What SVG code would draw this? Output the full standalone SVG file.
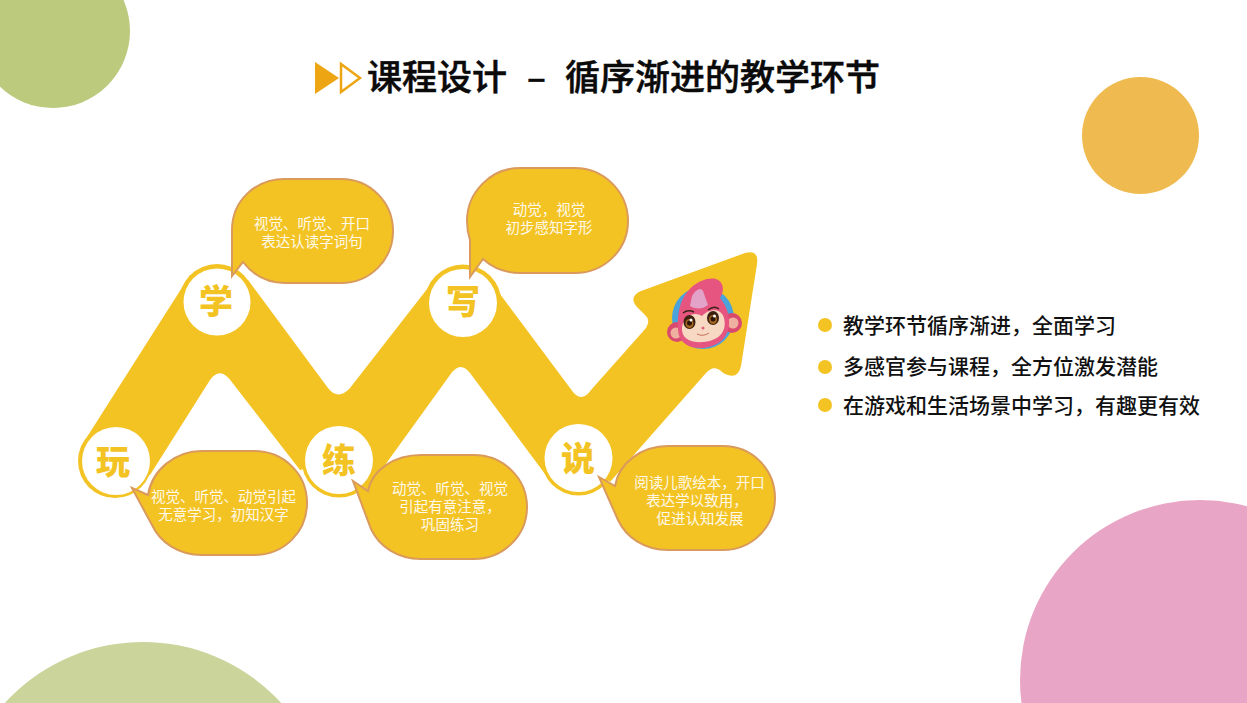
<svg xmlns="http://www.w3.org/2000/svg" width="1247" height="703" viewBox="0 0 1247 703">
  <style>
    text { font-family: "Noto Sans CJK SC", "Noto Sans", sans-serif; }
    .title { font-size: 35px; font-weight: 500; fill: #0a0a0a; stroke: #0a0a0a; stroke-width: 0.5px; }
    .bubble { fill: #F3C324; stroke: #DA9A5C; stroke-width: 2; stroke-linejoin: miter; }
    .bubble-text { font-size: 14.5px; fill: #FFF9EA; text-anchor: middle; }
    .ring { fill: #F3C324; }
    .hole { fill: #fff; }
    .step { font-size: 34px; font-weight: 900; fill: #F3C324; text-anchor: middle; }
    .item { font-size: 21px; font-weight: 500; fill: #111; }
    .dot { fill: #F3C324; }
  </style>

  <!-- Corner decoration -->
  <g id="decor">
    <circle cx="53" cy="31" r="77" fill="#BCCA7E"/>
    <circle cx="1140.500" cy="135.500" r="58.500" fill="#EFBA4F"/>
    <circle cx="1200" cy="680" r="180" fill="#E9A5C6"/>
    <circle cx="143" cy="829" r="187" fill="#CBD49B"/>
  </g>

  <!-- Heading -->
  <g id="heading">
    <polygon points="315,62 339,78 315,94" fill="#EDA514"/>
    <polygon points="341,64 360,78 341,92" fill="#fff" stroke="#EDA514" stroke-width="2.500"/>
    <text class="title" x="367" y="90">课程设计</text>
    <text class="title" x="527" y="90">–</text>
    <text class="title" x="565" y="90">循序渐进的教学环节</text>
  </g>

  <!-- Rising zigzag band ending in an arrowhead -->
  <g id="connectors">
    <path fill="#F3C324" d="M87,437 L190,275 L248,280 L328,388 Q338,401 350,388 L438,275 L497,290 L573,392 Q582,403 591,390 L646,328 Q651,320 645,315 L637,307 Q628,297 641,291 L745,253 Q759,249 757,264 L741,366 Q738,380 725,374 L722,372 Q714,364 706,373 L610,482 L578,458 L548,478 L470,373 Q460,360 450,375 L367,490 L339,460 L300,470 L231,381 Q220,366 210,380 L150,475 L114,461 Z"/>
  </g>

  <g id="node-play">
    <circle class="ring" cx="115" cy="461" r="37"/>
    <circle class="hole" cx="116" cy="461" r="34"/>
    <text class="step" x="113" y="474">玩</text>
    <path class="bubble" d="M132,488 L148,495 C152,470 175,451 202,451 L254,451 C284,451 307,474 307,503 C307,532 284,555 254,555 L202,555 C178,555 160,542 152,525 Z"/>
    <text class="bubble-text" x="223.500" y="502">视觉、听觉、动觉引起</text>
    <text class="bubble-text" x="223.500" y="520">无意学习，初知汉字</text>
  </g>

  <g id="node-learn">
    <circle class="ring" cx="217" cy="302" r="38"/>
    <circle class="hole" cx="217" cy="302" r="33.500"/>
    <text class="step" x="216" y="314">学</text>
    <path class="bubble" d="M232,276 L232,230 C232,201 255,179 285,179 L341,179 C370,179 393,202 393,231 C393,260 370,283 341,283 L285,283 C267,283 253,275 243,262 Z"/>
    <text class="bubble-text" x="312" y="229">视觉、听觉、开口</text>
    <text class="bubble-text" x="312" y="247">表达认读字词句</text>
  </g>

  <g id="node-practice">
    <circle class="ring" cx="339" cy="460" r="37.500"/>
    <circle class="hole" cx="339" cy="460" r="34"/>
    <text class="step" x="339" y="473">练</text>
    <path class="bubble" d="M353,481 L368,491 C372,470 394,455 421,455 L474,455 C503,455 527,478 527,507 C527,536 503,559 474,559 L421,559 C397,559 379,546 371,529 Z"/>
    <text class="bubble-text" x="450" y="494">动觉、听觉、视觉</text>
    <text class="bubble-text" x="450" y="512">引起有意注意，</text>
    <text class="bubble-text" x="450" y="530">巩固练习</text>
  </g>

  <g id="node-write">
    <circle class="ring" cx="463" cy="303" r="38.500"/>
    <circle class="hole" cx="463" cy="303" r="34"/>
    <text class="step" x="463" y="314">写</text>
    <path class="bubble" d="M470,277 L470,240 C468,234 467,228 467,221 C467,192 491,168 520,168 L575,168 C604,168 628,192 628,221 C628,250 604,273 575,273 L520,273 C506,273 493,268 483,259 Z"/>
    <text class="bubble-text" x="549" y="215">动觉，视觉</text>
    <text class="bubble-text" x="549" y="233">初步感知字形</text>
  </g>

  <g id="node-speak">
    <circle class="ring" cx="578.500" cy="458" r="37.500"/>
    <circle class="hole" cx="578.500" cy="458" r="34"/>
    <text class="step" x="578" y="471">说</text>
    <path class="bubble" d="M599,477 L615,486 C619,463 641,446 668,446 L723,446 C752,446 775,469 775,498 C775,527 752,550 723,550 L668,550 C644,550 626,537 618,520 Z"/>
    <text class="bubble-text" x="699.500" y="488">阅读儿歌绘本，开口</text>
    <text class="bubble-text" x="697" y="506">表达学以致用，</text>
    <text class="bubble-text" x="700" y="524">促进认知发展</text>
  </g>

  <!-- Monkey mascot on the arrowhead -->
  <g id="mascot">
    <circle cx="703" cy="318" r="31" fill="#4BA3DC"/>
    <circle cx="677" cy="332" r="10" fill="#D94A6E"/>
    <circle cx="732" cy="323" r="10" fill="#D94A6E"/>
    <circle cx="676" cy="333" r="5.500" fill="#EFB0A0"/>
    <circle cx="733" cy="323" r="5.500" fill="#EFB0A0"/>
    <path fill="#E5557F" d="M688,291 C695,282 708,277 716,279 C725,282 724,293 720,298 C726,305 730,314 729,326 C727,340 716,347 703,348 C689,349 679,343 678,330 C677,314 680,300 688,291 Z"/>
    <path fill="#F7D9C3" d="M682,327 C684,315 695,311 702,316 C708,309 721,307 724,318 C727,330 721,340 704,342 C689,343 681,338 682,327 Z"/>
    <path fill="#E3A3C9" d="M692,296 C696,289 701,287 703,291 L708,305 C702,310 694,309 690,306 Z"/>
    <path d="M683,313 Q688,309 694,312 M708,310 Q714,305 719,309" fill="none" stroke="#3A2418" stroke-width="1.500"/>
    <ellipse cx="689.500" cy="322" rx="6" ry="7" fill="#3D2110"/>
    <ellipse cx="713" cy="318" rx="6" ry="7" fill="#3D2110"/>
    <ellipse cx="689.500" cy="323.500" rx="4" ry="4.500" fill="#A5661E"/>
    <ellipse cx="713" cy="319.500" rx="4" ry="4.500" fill="#A5661E"/>
    <circle cx="689.500" cy="323" r="2.500" fill="#2A1508"/>
    <circle cx="713" cy="319" r="2.500" fill="#2A1508"/>
    <circle cx="691" cy="320" r="1.500" fill="#fff"/>
    <circle cx="714.500" cy="316" r="1.500" fill="#fff"/>
    <circle cx="703" cy="328" r="1.500" fill="#E0607E"/>
    <path d="M697,334 Q703,337 709,333" fill="none" stroke="#C9705F" stroke-width="1"/>
  </g>

  <!-- Summary points -->
  <g id="summary">
    <circle class="dot" cx="825" cy="325" r="7"/>
    <text class="item" x="843" y="333">教学环节循序渐进，全面学习</text>
    <circle class="dot" cx="825" cy="367" r="7"/>
    <text class="item" x="843" y="374">多感官参与课程，全方位激发潜能</text>
    <circle class="dot" cx="825" cy="405" r="7"/>
    <text class="item" x="843" y="413">在游戏和生活场景中学习，有趣更有效</text>
  </g>
</svg>
